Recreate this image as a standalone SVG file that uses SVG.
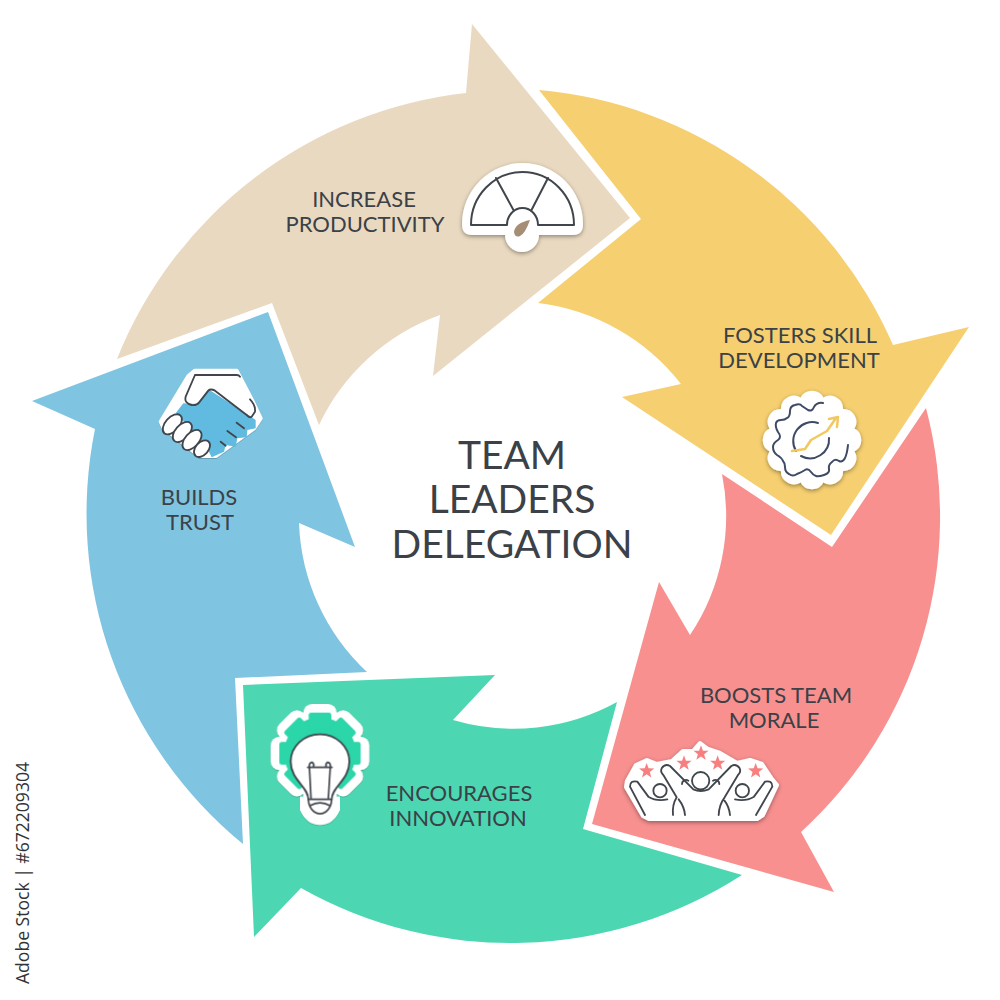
<svg xmlns="http://www.w3.org/2000/svg" width="1000" height="1000" viewBox="0 0 1000 1000">
<defs>
<filter id="sh" x="-20%" y="-20%" width="140%" height="140%"><feDropShadow dx="0" dy="1.500" stdDeviation="2.200" flood-color="#000" flood-opacity=".4"/></filter>
<path id="star" d="M0-24L5.800-8L22.800-7.400L9.300 3L14 19.400L0 9.800L-14 19.400L-9.300 3L-22.800-7.400L-5.800-8Z"/>
<rect id="tooth" x="-34" y="-122" width="68" height="50" rx="7"/>
<rect id="toothw" x="-50" y="-148" width="100" height="70" rx="26"/>
</defs>
<style>
text{font-family:"Lato","Open Sans",sans-serif;fill:#3b4147;text-anchor:middle}
.l{font-size:22px}
.t{font-size:39px}
.i{fill:none;stroke:#40464c;stroke-width:2;stroke-linecap:round;stroke-linejoin:round}
.z{fill:none;stroke:#40464c;stroke-width:5.500;stroke-linecap:round;stroke-linejoin:round}
.w{fill:#fff}
.bw{fill:#fff;stroke:#fff;stroke-width:12;stroke-linejoin:round}
</style>
<rect width="1000" height="1000" fill="#fff"/>
<g id="connectors">
<path id="arrow-productivity" fill="#e9d9c0" d="M117 359A427 427 0 0 1 466 93L472 24L630 218L433 376L440 315A214 214 0 0 0 319 425L272 303Z"/>
<path id="arrow-skill" fill="#f6cf70" d="M539 90A427 427 0 0 1 893 345L969 327L831 535L622 397L681 384A214 214 0 0 0 538 303L641 219Z"/>
<path id="arrow-morale" fill="#f89090" d="M926 408A427 427 0 0 1 801 832L834 892L592 824L659 582L690 635A214 214 0 0 0 722 474L832 547Z"/>
<path id="arrow-innovation" fill="#4cd7b2" d="M742 875A427 427 0 0 1 301 888L254 937L243 685L495 675L453 720A214 214 0 0 0 617 702L583 829Z"/>
<path id="arrow-trust" fill="#7fc4e1" d="M243 844A427 427 0 0 1 95 429L32 401L268 312L355 547L299 523A214 214 0 0 0 367 672L235 678Z"/>
</g>
<g id="node-center"><text class="t" x="512" y="469">TEAM</text><text class="t" x="512" y="513">LEADERS</text><text class="t" x="512" y="558">DELEGATION</text></g>
<g id="node-productivity">
<text class="l" x="364" y="207">INCREASE</text><text class="l" x="365" y="232">PRODUCTIVITY</text>
<path class="w" filter="url(#sh)" d="M462 224a60.500 61 0 0 1 121 0q0 11-10 11h-34a17 17 0 0 1-34 0h-33q-10 0-10-11z"/>
<path class="i" d="M471 225a51.500 53 0 0 1 103 0h-36a15.500 17 0 0 0-31 0zM496 178l18 33M548 178l-17 33"/>
<path fill="#a58d76" d="M530 220Q515 223 514 232Q515 238 520 236Q525 234 530 220Z"/>
</g>
<g id="node-skill">
<text class="l" x="800" y="343">FOSTERS SKILL</text><text class="l" x="799" y="368">DEVELOPMENT</text>
<path class="w" filter="url(#sh)" d="M854.500 428.600A13 13 0 0 1 854.500 451.400A13 13 0 0 1 843.100 471.100A13 13 0 0 1 823.400 482.500A13 13 0 0 1 800.600 482.500A13 13 0 0 1 780.900 471.100A13 13 0 0 1 769.500 451.400A13 13 0 0 1 769.500 428.600A13 13 0 0 1 780.900 408.900A13 13 0 0 1 800.600 397.500A13 13 0 0 1 823.400 397.500A13 13 0 0 1 843.100 408.900A13 13 0 0 1 854.500 428.600Z"/>
<path class="i" style="stroke:#3f4a66" d="M823 403Q817 402 814 407Q812 412 808 410Q805 408 802 406Q800 403 795 405Q790 406 790 411Q790 417 787 418Q785 420 781 420Q777 420 776 423Q775 427 778 432Q782 437 778 440Q773 443 773 447Q773 452 777 455Q782 458 783 461Q785 463 785 467Q785 472 789 474Q793 477 797 474Q802 472 805 470Q808 468 811 472Q813 475 816 476Q818 477 824 475Q830 473 829 469Q828 465 832 462Q835 458 839 461Q846 464 848 445"/>
<path class="i" style="stroke:#3f4a66" d="M818 423A19 19 0 0 0 796 451M801 456A19 19 0 0 0 829 438"/>
<path fill="none" stroke="#f2c860" stroke-width="2.500" stroke-linecap="round" stroke-linejoin="round" d="M792 451L805 449L811 440L827 431L836 418M829 419L838 417L837 427"/>
</g>
<g id="node-morale">
<text class="l" x="776" y="703">BOOSTS TEAM</text><text class="l" x="774" y="728">MORALE</text>
<path class="bw" style="stroke-width:4" filter="url(#sh)" d="M627 781L636 765L647 760L657 764L672 761L683 751L693 751L700 743L708 749L720 753L737 763L750 760L762 764L772 779L777 785L763 815L757 819H649L643 816L626 787Z"/>
<g transform="translate(580 700) scale(.33333)">
<g fill="#f77f7f"><use href="#star" x="200" y="213"/><use href="#star" x="312" y="190"/><use href="#star" x="363" y="160"/><use href="#star" x="413" y="190"/><use href="#star" x="527" y="213"/></g>
<circle class="z" cx="362" cy="242" r="26"/><circle class="z" cx="240" cy="272" r="20"/><circle class="z" cx="487" cy="272" r="20"/>
<path class="z" d="M340 268Q362 278 386 268L454 198Q469 190 479 205Q484 215 474 225L434 292Q417 315 416 345M340 268L270 198Q255 190 245 205Q240 215 250 225L290 292Q276 315 279 345M296 298Q313 320 315 345M431 298Q448 320 450 345"/>
<path class="z" d="M150 260Q150 240 172 245L205 290Q230 305 262 298M150 260L195 345M577 260Q577 240 555 245L522 290Q497 305 465 298M577 260L528 345"/>
<path class="z" d="M306 252A12 12 0 0 1 325 242M418 252A12 12 0 0 0 399 242"/>
</g>
</g>
<g id="node-innovation">
<text class="l" x="459" y="801">ENCOURAGES</text><text class="l" x="458" y="826">INNOVATION</text>
<g transform="translate(250 690) scale(.33333)">
<g class="w" filter="url(#sh)">
<circle cx="210" cy="190" r="132"/>
<use href="#toothw" transform="translate(210 190)"/><use href="#toothw" transform="translate(210 190) rotate(45)"/><use href="#toothw" transform="translate(210 190) rotate(90)"/><use href="#toothw" transform="translate(210 190) rotate(135)"/><use href="#toothw" transform="translate(210 190) rotate(225)"/><use href="#toothw" transform="translate(210 190) rotate(270)"/><use href="#toothw" transform="translate(210 190) rotate(315)"/>
<path d="M150 320H270V360Q250 405 210 405Q170 405 150 360Z"/>
</g>
<g fill="#2bd6a9">
<circle cx="210" cy="190" r="108"/>
<use href="#tooth" transform="translate(210 190)"/><use href="#tooth" transform="translate(210 190) rotate(45)"/><use href="#tooth" transform="translate(210 190) rotate(90)"/><use href="#tooth" transform="translate(210 190) rotate(135)"/><use href="#tooth" transform="translate(210 190) rotate(225)"/><use href="#tooth" transform="translate(210 190) rotate(270)"/><use href="#tooth" transform="translate(210 190) rotate(315)"/>
</g>
<path class="w" d="M160 310H260V370H160Z"/>
<path class="z w" style="fill:#fff" d="M175 328C175 290 122 270 122 215A88 82 0 0 1 298 215C298 270 245 290 245 328Z"/>
<path class="z" style="stroke-width:5" d="M183 325L178 228Q178 217 187 217Q194 222 190 232H173M235 325L241 228Q241 217 232 217Q225 222 229 232H246M183 232H235M175 328Q176 352 192 365Q210 378 228 365Q244 352 245 328M180 347Q210 330 240 347"/>
</g>
</g>
<g id="node-trust">
<text class="l" x="199" y="505">BUILDS</text><text class="l" x="200" y="530">TRUST</text>
<g transform="translate(140 350) scale(.33333)">
<path class="bw" filter="url(#sh)" d="M165 62H290L335 148L362 205L342 235L228 318H178L70 232L62 215L145 78Z"/>
<path fill="#61bbe0" d="M108 188L130 160L172 162L205 118L330 198L347 210L347 235L322 240L320 262L292 265L287 290L257 285L252 305L215 322L200 292Z"/>
<path class="z" d="M165 75H290Q297 75 300 80M165 75L137 140Q132 160 155 165Q170 167 177 158L205 122Q212 115 225 122L320 195Q330 205 335 200L345 185Q347 165 330 148"/>
<path class="z" d="M290 218L312 235M262 243L288 262M242 275L257 287"/>
<g class="z" style="fill:#fff"><ellipse cx="97" cy="223" rx="21" ry="36" transform="rotate(42 97 223)"/><ellipse cx="127" cy="246" rx="21" ry="36" transform="rotate(42 127 246)"/><ellipse cx="156" cy="270" rx="21" ry="36" transform="rotate(42 156 270)"/><ellipse cx="186" cy="296" rx="19" ry="29" transform="rotate(42 186 296)"/></g>
</g>
</g>
<text x="29" y="984" transform="rotate(-90 29 984)" textLength="222" lengthAdjust="spacingAndGlyphs" style="font-family:'Open Sans',sans-serif;font-size:19px;fill:#333;text-anchor:start">Adobe Stock | #672209304</text>
</svg>
